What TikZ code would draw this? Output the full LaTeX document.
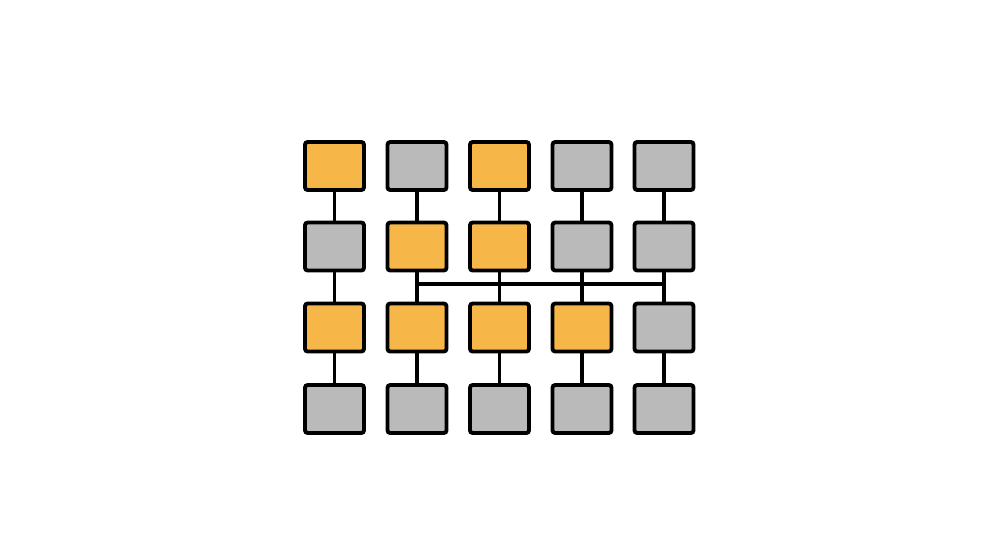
\documentclass[tikz,border=0pt]{standalone}
\usepackage{xcolor}
\usepackage{tikz}
\usetikzlibrary{positioning}
\definecolor{cellorange}{RGB}{247,183,72}
\definecolor{cellgray}{RGB}{186,186,186}

\begin{document}
\begin{tikzpicture}[
    x=0.02cm, y=-0.02cm,
    cell/.style={rectangle, draw=black, line width=2.2pt, rounded corners=1.5pt, minimum width=1.18cm, minimum height=0.96cm, inner sep=0pt},
    on cell/.style={cell, fill=cellorange},
    off cell/.style={cell, fill=cellgray},
    link/.style={line width=2.2pt, black, line cap=rect}
]
    \useasboundingbox (0,0) rectangle (1000,545);

    % Row 1
    \node[on cell]  (b11) at (334.5,166) {};
    \node[off cell] (b12) at (417,166) {};
    \node[on cell]  (b13) at (499.5,166) {};
    \node[off cell] (b14) at (582,166) {};
    \node[off cell] (b15) at (664,166) {};

    % Row 2
    \node[off cell] (b21) at (334.5,246.5) {};
    \node[on cell]  (b22) at (417,246.5) {};
    \node[on cell]  (b23) at (499.5,246.5) {};
    \node[off cell] (b24) at (582,246.5) {};
    \node[off cell] (b25) at (664,246.5) {};

    % Row 3
    \node[on cell]  (b31) at (334.5,327.5) {};
    \node[on cell]  (b32) at (417,327.5) {};
    \node[on cell]  (b33) at (499.5,327.5) {};
    \node[on cell]  (b34) at (582,327.5) {};
    \node[off cell] (b35) at (664,327.5) {};

    % Row 4
    \node[off cell] (b41) at (334.5,409) {};
    \node[off cell] (b42) at (417,409) {};
    \node[off cell] (b43) at (499.5,409) {};
    \node[off cell] (b44) at (582,409) {};
    \node[off cell] (b45) at (664,409) {};

    % Vertical links
    \foreach \c in {1,2,3,4,5} {
        \draw[link, line cap=butt] (b1\c) -- (b2\c);
        \draw[link, line cap=butt] (b2\c) -- (b3\c);
        \draw[link, line cap=butt] (b3\c) -- (b4\c);
    }

    % Bus between rows 2 and 3
    \coordinate (busL) at (417,284);
    \coordinate (busR) at (664,284);
    \draw[link] (busL) -- (busR);
\end{tikzpicture}
\end{document}
